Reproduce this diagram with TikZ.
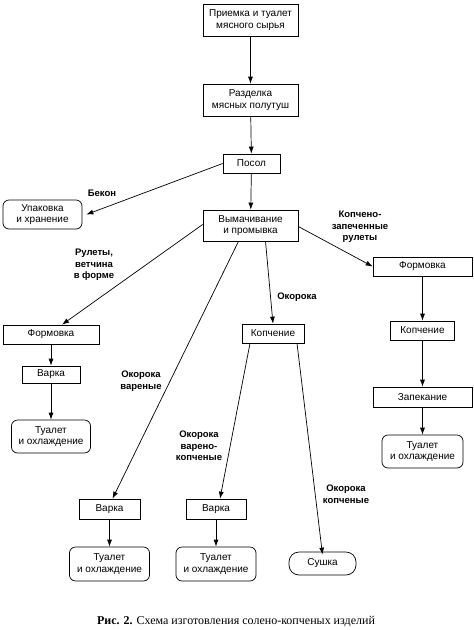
\documentclass[tikz,border=0pt]{standalone}
\usepackage{fontspec}
\setmainfont{Liberation Sans}
\newfontfamily\capfont{Liberation Serif}
\usetikzlibrary{arrows.meta}

\begin{document}
\begin{tikzpicture}[x=1pt,y=-1pt,>={Latex[length=7pt,width=5pt]},line width=0.7pt,
  box/.style={draw,rectangle,align=center,inner sep=1pt,font=\fontsize{10}{11.5}\selectfont},
  rbox/.style={box,rounded corners=6pt},
  lbl/.style={align=center,font=\fontsize{9.5}{11.5}\selectfont\bfseries}]
  \useasboundingbox (0,0) rectangle (474,630);

  % Main line
  \node[box,minimum width=95,minimum height=32] (priem) at (250.5,20) {Приемка и туалет\\мясного сырья};
  \node[box,minimum width=95,minimum height=32] (razd) at (250.5,100) {Разделка\\мясных полутуш};
  \node[box,minimum width=57,minimum height=19] (posol) at (251.5,163.5) {Посол};
  \node[rbox,minimum width=79,minimum height=29] (upak) at (42.5,214.5) {Упаковка\\и хранение};
  \node[box,minimum width=95,minimum height=31] (vym) at (250.5,225.5) {Вымачивание\\и промывка};

  % Right branch
  \node[box,minimum width=99,minimum height=19] (formR) at (422.5,266.5) {Формовка};
  \node[box,minimum width=64,minimum height=19] (kopR) at (422.5,330.5) {Копчение};
  \node[box,minimum width=99,minimum height=20] (zapek) at (422.5,397) {Запекание};
  \node[rbox,minimum width=81,minimum height=33] (tualR) at (422.5,451.5) {Туалет\\и охлаждение};

  % Left branch
  \node[box,minimum width=96,minimum height=19] (formL) at (51,334.5) {Формовка};
  \node[box,minimum width=58,minimum height=17] (varkaL) at (51,374.5) {Варка};
  \node[rbox,minimum width=79,minimum height=33] (tualL) at (51,436.5) {Туалет\\и охлаждение};

  % Middle branches
  \node[box,minimum width=62,minimum height=19] (kopM) at (273,333.5) {Копчение};
  \node[box,minimum width=61,minimum height=20] (varkaA) at (109.5,509) {Варка};
  \node[box,minimum width=60,minimum height=20] (varkaB) at (216,509) {Варка};
  \node[rbox,minimum width=80,minimum height=34] (tualA) at (109.5,564) {Туалет\\и охлаждение};
  \node[rbox,minimum width=80,minimum height=34] (tualB) at (216,564) {Туалет\\и охлаждение};
  \node[rbox,rounded corners=10pt,minimum width=67,minimum height=23] (sushka) at (322.5,563.5) {Сушка};

  % Connectors
  \draw[->] (priem) -- (razd);
  \draw[->] (razd) -- (posol);
  \draw[->] (posol.west) -- ([xshift=4pt]upak.east);
  \draw[->] (posol) -- (vym);
  \draw[->] ([yshift=-1pt]vym.east) -- (formR.west);
  \draw[->] (formR) -- (kopR);
  \draw[->] (kopR) -- (zapek);
  \draw[->] (zapek) -- (tualR);
  \draw[->] ([yshift=1pt]vym.west) -- ([xshift=11pt]formL.north);
  \draw[->] (formL) -- (varkaL);
  \draw[->] (varkaL) -- (tualL);
  \draw[->] ([xshift=-12pt]vym.south) -- ([xshift=3pt]varkaA.north);
  \draw[->] ([xshift=15pt]vym.south) -- (kopM.north);
  \draw[->] ([xshift=-23pt]kopM.south) -- ([xshift=4pt]varkaB.north);
  \draw[->] ([xshift=24pt]kopM.south) -- ([yshift=-3pt]sushka.north);
  \draw[->] (varkaA) -- (tualA);
  \draw[->] (varkaB) -- (tualB);

  % Labels
  \node[lbl] (lbekon) at (102,193) {Бекон};
  \node[lbl] (lrul) at (360,227) {Копчено-\\запеченные\\рулеты};
  \node[lbl] (lvet) at (94,265) {Рулеты,\\ветчина\\в форме};
  \node[lbl] (lokor) at (297,297) {Окорока};
  \node[lbl] (lvar) at (141,381) {Окорока\\вареные};
  \node[lbl] (lvk) at (199,446) {Окорока\\варено-\\копченые};
  \node[lbl] (lkop) at (346,494) {Окорока\\копченые};

  % Caption
  \node[font=\capfont\fontsize{12}{14}\selectfont] (cap) at (236,622) {\textbf{Рис. 2.} Схема изготовления солено-копченых изделий};
\end{tikzpicture}
\end{document}
